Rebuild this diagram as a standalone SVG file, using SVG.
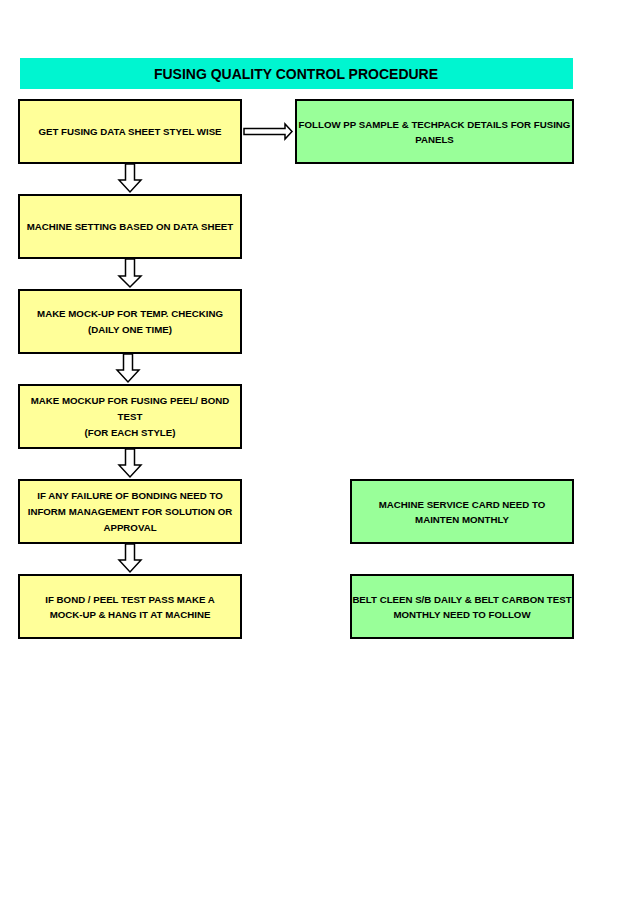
<svg xmlns="http://www.w3.org/2000/svg" width="638" height="902" viewBox="0 0 638 902">
<style>
.y{fill:#FFFF99;stroke:#000;stroke-width:2}
.g{fill:#99FF99;stroke:#000;stroke-width:2}
.t{font-family:"Liberation Sans",Arial,sans-serif;font-weight:bold;font-size:9.7px;fill:#000;text-anchor:middle}
.a{fill:#fff;stroke:#000;stroke-width:1.5;stroke-linejoin:miter}
</style>
<rect width="638" height="902" fill="#fff"/>
<g id="title">
<rect x="20" y="58" width="553" height="31" fill="#00F5D0"/>
<text x="296" y="79" class="t" style="font-size:14px">FUSING QUALITY CONTROL PROCEDURE</text>
</g>
<g id="n1"><rect class="y" x="19" y="100" width="222" height="63"/>
<text class="t" x="130" y="134.5">GET FUSING DATA SHEET STYEL WISE</text></g>
<g id="n1r"><rect class="g" x="296" y="100" width="277" height="63"/>
<text class="t" x="434.5" y="127.5">FOLLOW PP SAMPLE &amp; TECHPACK DETAILS FOR FUSING</text>
<text class="t" x="434.5" y="142.5">PANELS</text></g>
<g id="n2"><rect class="y" x="19" y="195" width="222" height="63"/>
<text class="t" x="130" y="229.5">MACHINE SETTING BASED ON DATA SHEET</text></g>
<g id="n3"><rect class="y" x="19" y="290" width="222" height="63"/>
<text class="t" x="130" y="316.5">MAKE MOCK-UP FOR TEMP. CHECKING</text>
<text class="t" x="130" y="332.5">(DAILY ONE TIME)</text></g>
<g id="n4"><rect class="y" x="19" y="385" width="222" height="63"/>
<text class="t" x="130" y="403.5">MAKE MOCKUP FOR FUSING PEEL/ BOND</text>
<text class="t" x="130" y="419.5">TEST</text>
<text class="t" x="130" y="435.5">(FOR EACH STYLE)</text></g>
<g id="n5"><rect class="y" x="19" y="480" width="222" height="63"/>
<text class="t" x="130" y="498.5">IF ANY FAILURE OF BONDING NEED TO</text>
<text class="t" x="130" y="514.5">INFORM MANAGEMENT FOR SOLUTION OR</text>
<text class="t" x="130" y="530.5">APPROVAL</text></g>
<g id="n6"><rect class="y" x="19" y="575" width="222" height="63"/>
<text class="t" x="130" y="602.5">IF BOND / PEEL TEST PASS MAKE A</text>
<text class="t" x="130" y="617.5">MOCK-UP &amp; HANG IT AT MACHINE</text></g>
<g id="n5r"><rect class="g" x="351" y="480" width="222" height="63"/>
<text class="t" x="462" y="507.5">MACHINE SERVICE CARD NEED TO</text>
<text class="t" x="462" y="522.5">MAINTEN MONTHLY</text></g>
<g id="n6r"><rect class="g" x="351" y="575" width="222" height="63"/>
<text class="t" x="462" y="602.5">BELT CLEEN S/B DAILY &amp; BELT CARBON TEST</text>
<text class="t" x="462" y="617.5">MONTHLY NEED TO FOLLOW</text></g>
<g id="connectors">
<path class="a" d="M244,128.5 H285 V124 L292,131.5 L285,139 V134.5 H244 Z"/>
<path class="a" d="M125.5,164 H134.5 V180 H141 L130,192 L119,180 H125.5 Z"/>
<path class="a" d="M125.5,259 H134.5 V276 H141 L130,287 L119,276 H125.5 Z"/>
<path class="a" d="M123.5,354 H132.5 V370 H139 L128,382 L117,370 H123.5 Z"/>
<path class="a" d="M125.5,449 H134.5 V465 H141 L130,477 L119,465 H125.5 Z"/>
<path class="a" d="M125.5,544 H134.5 V560 H141 L130,572 L119,560 H125.5 Z"/>
</g>
</svg>
